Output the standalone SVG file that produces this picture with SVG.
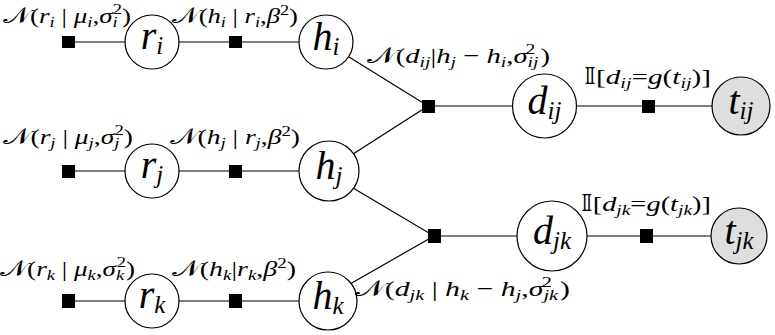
<svg xmlns="http://www.w3.org/2000/svg" width="775" height="335" viewBox="0 0 775 335">
<style>
.node{fill:#fff;stroke:#000;stroke-width:1.2}
.obs{fill:#dedede;stroke:#000;stroke-width:1.2}
.fac{fill:#000}
.edge{stroke:#000;stroke-width:1.2;fill:none}
text{font-family:"Liberation Serif","DejaVu Serif",serif;fill:#000}
.lbl{font-size:22px}
.it{font-style:italic}
.sub{font-size:15px;font-style:italic}
.sup{font-size:15px}
.big{font-size:40px;font-style:italic}
.bsub{font-size:25px;font-style:italic}
.cal{font-family:"DejaVu Sans","Noto Sans",sans-serif;font-style:normal;font-size:23px}
</style>
<rect width="775" height="335" fill="#fff"/>
<g id="connectors">
<line class="edge" x1="68" y1="42" x2="125" y2="42"/>
<line class="edge" x1="179" y1="42" x2="299" y2="42"/>
<line class="edge" x1="68" y1="171" x2="125" y2="171"/>
<line class="edge" x1="179" y1="171" x2="299" y2="171"/>
<line class="edge" x1="68" y1="301" x2="125" y2="301"/>
<line class="edge" x1="179" y1="301" x2="299" y2="301"/>
<line class="edge" x1="349" y1="57" x2="428" y2="106"/>
<line class="edge" x1="353" y1="154" x2="428" y2="106"/>
<line class="edge" x1="428" y1="106" x2="512" y2="106"/>
<line class="edge" x1="577" y1="106" x2="712" y2="106"/>
<line class="edge" x1="353" y1="188" x2="434" y2="236"/>
<line class="edge" x1="350" y1="284" x2="434" y2="236"/>
<line class="edge" x1="434" y1="236" x2="517" y2="236"/>
<line class="edge" x1="587" y1="236" x2="711" y2="236"/>
</g>
<g id="f_ri"><rect class="fac" x="62" y="36" width="13" height="12"/>
<text class="lbl" x="3" y="23" textLength="128" lengthAdjust="spacingAndGlyphs"><tspan class="cal">𝒩</tspan>(<tspan class="it">r</tspan><tspan class="sub" dy="4">i</tspan><tspan dy="-4"> | </tspan><tspan class="it">μ</tspan><tspan class="sub" dy="4">i</tspan><tspan dy="-4">,</tspan><tspan class="it">σ</tspan><tspan class="sub" dy="4">i</tspan><tspan class="sup" dx="-4" dy="-13">2</tspan><tspan dy="9">)</tspan></text></g>
<g id="r_i"><circle class="node" cx="152" cy="42" r="27"/><text x="152" y="49" text-anchor="middle"><tspan class="big">r</tspan><tspan class="bsub" dy="5">i</tspan></text></g>
<g id="f_hi"><rect class="fac" x="229" y="36" width="13" height="12"/>
<text class="lbl" x="172" y="23" textLength="126" lengthAdjust="spacingAndGlyphs"><tspan class="cal">𝒩</tspan>(<tspan class="it">h</tspan><tspan class="sub" dy="4">i</tspan><tspan dy="-4"> | </tspan><tspan class="it">r</tspan><tspan class="sub" dy="4">i</tspan><tspan dy="-4">,</tspan><tspan class="it">β</tspan><tspan class="sup" dy="-8">2</tspan><tspan dy="8">)</tspan></text></g>
<g id="h_i"><circle class="node" cx="326" cy="42" r="27"/><text x="326" y="50" text-anchor="middle"><tspan class="big">h</tspan><tspan class="bsub" dy="5">i</tspan></text></g>

<g id="f_rj"><rect class="fac" x="62" y="165" width="13" height="13"/>
<text class="lbl" x="3" y="144" textLength="130" lengthAdjust="spacingAndGlyphs"><tspan class="cal">𝒩</tspan>(<tspan class="it">r</tspan><tspan class="sub" dy="4">j</tspan><tspan dy="-4"> | </tspan><tspan class="it">μ</tspan><tspan class="sub" dy="4">j</tspan><tspan dy="-4">,</tspan><tspan class="it">σ</tspan><tspan class="sub" dy="4">j</tspan><tspan class="sup" dx="-4" dy="-13">2</tspan><tspan dy="9">)</tspan></text></g>
<g id="r_j"><circle class="node" cx="152" cy="171" r="27"/><text x="152" y="178" text-anchor="middle"><tspan class="big">r</tspan><tspan class="bsub" dy="5">j</tspan></text></g>
<g id="f_hj"><rect class="fac" x="229" y="165" width="13" height="13"/>
<text class="lbl" x="170" y="144" textLength="130" lengthAdjust="spacingAndGlyphs"><tspan class="cal">𝒩</tspan>(<tspan class="it">h</tspan><tspan class="sub" dy="4">j</tspan><tspan dy="-4"> | </tspan><tspan class="it">r</tspan><tspan class="sub" dy="4">j</tspan><tspan dy="-4">,</tspan><tspan class="it">β</tspan><tspan class="sup" dy="-8">2</tspan><tspan dy="8">)</tspan></text></g>
<g id="h_j"><circle class="node" cx="329" cy="171" r="30"/><text x="329" y="179" text-anchor="middle"><tspan class="big">h</tspan><tspan class="bsub" dy="5">j</tspan></text></g>

<g id="f_rk"><rect class="fac" x="62" y="294" width="13" height="14"/>
<text class="lbl" x="0" y="276" textLength="135" lengthAdjust="spacingAndGlyphs"><tspan class="cal">𝒩</tspan>(<tspan class="it">r</tspan><tspan class="sub" dy="4">k</tspan><tspan dy="-4"> | </tspan><tspan class="it">μ</tspan><tspan class="sub" dy="4">k</tspan><tspan dy="-4">,</tspan><tspan class="it">σ</tspan><tspan class="sub" dy="4">k</tspan><tspan class="sup" dx="-6" dy="-13">2</tspan><tspan dy="9">)</tspan></text></g>
<g id="r_k"><circle class="node" cx="152" cy="301" r="27"/><text x="152" y="308" text-anchor="middle"><tspan class="big">r</tspan><tspan class="bsub" dy="5">k</tspan></text></g>
<g id="f_hk"><rect class="fac" x="229" y="294" width="13" height="14"/>
<text class="lbl" x="172" y="276" textLength="124" lengthAdjust="spacingAndGlyphs"><tspan class="cal">𝒩</tspan>(<tspan class="it">h</tspan><tspan class="sub" dy="4">k</tspan><tspan dy="-4">|</tspan><tspan class="it">r</tspan><tspan class="sub" dy="4">k</tspan><tspan dy="-4">,</tspan><tspan class="it">β</tspan><tspan class="sup" dy="-8">2</tspan><tspan dy="8">)</tspan></text></g>
<g id="h_k"><circle class="node" cx="328" cy="301" r="29"/><text x="328" y="309" text-anchor="middle"><tspan class="big">h</tspan><tspan class="bsub" dy="5">k</tspan></text></g>

<g id="f_dij"><rect class="fac" x="422" y="100" width="13" height="13"/>
<text class="lbl" x="367" y="63" textLength="183" lengthAdjust="spacingAndGlyphs"><tspan class="cal">𝒩</tspan>(<tspan class="it">d</tspan><tspan class="sub" dy="4">ij</tspan><tspan dy="-4">|</tspan><tspan class="it">h</tspan><tspan class="sub" dy="4">j</tspan><tspan dy="-4"> − </tspan><tspan class="it">h</tspan><tspan class="sub" dy="4">i</tspan><tspan dy="-4">,</tspan><tspan class="it">σ</tspan><tspan class="sub" dy="4">ij</tspan><tspan class="sup" dx="-10" dy="-13">2</tspan><tspan dx="4" dy="9">)</tspan></text></g>
<g id="d_ij"><circle class="node" cx="544.5" cy="106" r="32"/><text x="544.5" y="114" text-anchor="middle"><tspan class="big">d</tspan><tspan class="bsub" dy="5">ij</tspan></text></g>
<g id="f_tij"><rect class="fac" x="642" y="100" width="13" height="13"/>
<text class="lbl" x="584" y="84" textLength="127" lengthAdjust="spacingAndGlyphs"><tspan class="cal">𝕀</tspan>[<tspan class="it">d</tspan><tspan class="sub" dy="4">ij</tspan><tspan dy="-4">=</tspan><tspan class="it">g</tspan>(<tspan class="it">t</tspan><tspan class="sub" dy="4">ij</tspan><tspan dy="-4">)]</tspan></text></g>
<g id="t_ij"><circle class="obs" cx="741" cy="106" r="29"/><text x="741" y="114" text-anchor="middle"><tspan class="big">t</tspan><tspan class="bsub" dy="5">ij</tspan></text></g>

<g id="f_djk"><rect class="fac" x="428" y="229" width="13" height="14"/>
<text class="lbl" x="355" y="296" textLength="215" lengthAdjust="spacingAndGlyphs"><tspan class="cal">𝒩</tspan>(<tspan class="it">d</tspan><tspan class="sub" dy="4">jk</tspan><tspan dy="-4"> | </tspan><tspan class="it">h</tspan><tspan class="sub" dy="4">k</tspan><tspan dy="-4"> − </tspan><tspan class="it">h</tspan><tspan class="sub" dy="4">j</tspan><tspan dy="-4">,</tspan><tspan class="it">σ</tspan><tspan class="sub" dy="4">jk</tspan><tspan class="sup" dx="-12" dy="-13">2</tspan><tspan dx="6" dy="9">)</tspan></text></g>
<g id="d_jk"><circle class="node" cx="552" cy="236" r="35"/><text x="552" y="244" text-anchor="middle"><tspan class="big">d</tspan><tspan class="bsub" dy="5">jk</tspan></text></g>
<g id="f_tjk"><rect class="fac" x="640" y="229" width="13" height="14"/>
<text class="lbl" x="581" y="211" textLength="130" lengthAdjust="spacingAndGlyphs"><tspan class="cal">𝕀</tspan>[<tspan class="it">d</tspan><tspan class="sub" dy="4">jk</tspan><tspan dy="-4">=</tspan><tspan class="it">g</tspan>(<tspan class="it">t</tspan><tspan class="sub" dy="4">jk</tspan><tspan dy="-4">)]</tspan></text></g>
<g id="t_jk"><circle class="obs" cx="739" cy="236" r="28"/><text x="739" y="244" text-anchor="middle"><tspan class="big">t</tspan><tspan class="bsub" dy="5">jk</tspan></text></g>
</svg>
